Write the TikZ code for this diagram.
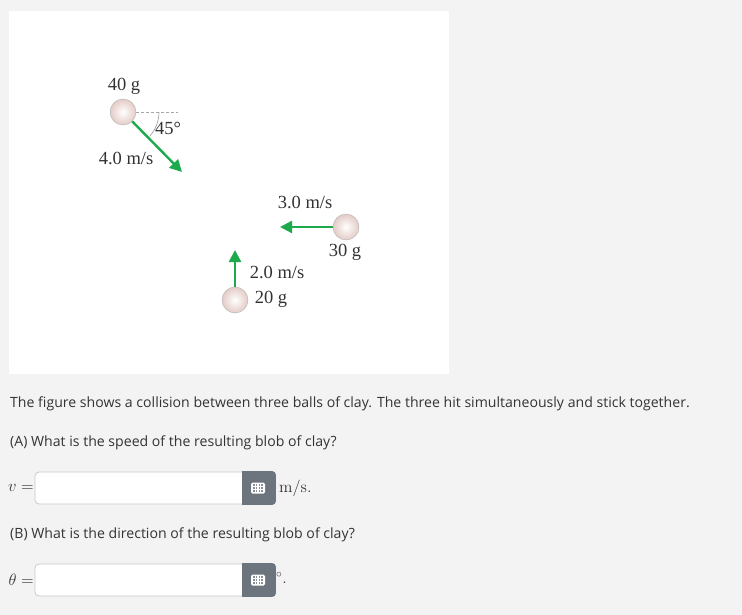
\documentclass[tikz,border=0pt]{standalone}
\usepackage{fix-cm}
\usepackage[no-math]{fontspec}
\setmainfont{Liberation Serif}
\newfontfamily\uifont{Open Sans}
\usetikzlibrary{arrows.meta}

\definecolor{pagebg}{HTML}{F3F3F3}
\definecolor{velgreen}{HTML}{1DAA4C}
\definecolor{claypink}{HTML}{E3CBC6}
\definecolor{inktext}{HTML}{333333}
\definecolor{btngray}{HTML}{6C757D}
\definecolor{boxline}{HTML}{C9C9C9}

\tikzset{
  ball/.style={circle, minimum size=26pt, inner sep=0pt, draw=gray!60,
    shading=radial, inner color=white, outer color=claypink},
  vel/.style={-{Triangle[length=12pt,width=12pt]}, line width=2.4pt, velgreen},
  lbl/.style={text=black!80, font=\fontsize{18.5}{20}\selectfont, inner sep=0pt},
  qtext/.style={anchor=west, text=inktext, inner sep=0pt,
    font=\uifont\fontsize{14.1}{16}\selectfont},
  mathlbl/.style={text=inktext, inner sep=0pt, font=\fontsize{16.5}{18}\selectfont},
}

% answer field with calculator button, top left corner at #1,#2
\newcommand{\ansfield}[2]{
  \draw[boxline, line width=0.8pt, fill=white, rounded corners=4pt]
    (#1,#2) rectangle ++(240,32);
  \begin{scope}
    \clip[rounded corners=4pt] (#1-1,#2-1) rectangle ++(242,34);
    \fill[btngray] (#1+207,#2-1) rectangle ++(34,34);
  \end{scope}
  \fill[white, rounded corners=1.5pt] (#1+216,#2+10.5) rectangle ++(14,11);
  \foreach \i in {0,1,2,3}
    \foreach \j in {0,1,2}
      \fill[btngray!80] (#1+218+\i*2.8,#2+12.3+\j*2.8) rectangle ++(1.6,1.6);
}

\begin{document}
\begin{tikzpicture}[x=1pt,y=-1pt]
  \useasboundingbox (0,0) rectangle (742,615);
  \fill[pagebg] (0,0) rectangle (742,615);
  \fill[white] (9,11) rectangle (449,374);

  % 40 g ball
  \node[ball] (ball40) at (123,112) {};
  \node[lbl] (m40) at (124,86) {40 g};
  \coordinate (dash40) at (178,112);
  \draw[gray!70, line width=0.6pt, dash pattern=on 3pt off 2pt] (ball40.east) -- (dash40);
  \draw[gray!80, line width=0.6pt] (ball40.center) ++(36,0) arc[start angle=0, end angle=42, radius=36];
  \node[lbl] (ang40) at (168,128) {45°};
  \coordinate (tip40) at (182,172);
  \draw[vel] (ball40) -- (tip40);
  \node[lbl] (v40) at (126,158) {4.0 m/s};

  % 30 g ball
  \node[ball] (ball30) at (346,227) {};
  \coordinate (tip30) at (280,227);
  \draw[vel] (ball30) -- (tip30);
  \node[lbl] (v30) at (305,202) {3.0 m/s};
  \node[lbl] (m30) at (345,252) {30 g};

  % 20 g ball
  \node[ball] (ball20) at (235,300) {};
  \coordinate (tip20) at (235,250);
  \draw[vel] (ball20) -- (tip20);
  \node[lbl] (v20) at (277,272) {2.0 m/s};
  \node[lbl] (m20) at (271,299) {20 g};

  % question text
  \node[qtext] (intro) at (10,404) {The figure shows a collision between three balls of clay. The three hit simultaneously and stick together.};
  \node[qtext] (partA) at (10,443) {(A) What is the speed of the resulting blob of clay?};
  \node[qtext] (partB) at (10,535) {(B) What is the direction of the resulting blob of clay?};

  % answer fields
  \ansfield{35}{472}
  \node[mathlbl, anchor=east] (vsym) at (34,488) {$v =$};
  \node[mathlbl, anchor=west] (vunit) at (279,488) {$\mathrm{m/s.}$};
  \ansfield{35}{564}
  \node[mathlbl, anchor=east] (thsym) at (34,580) {$\theta =$};
  \node[mathlbl, anchor=west] (thunit) at (276,578) {$^\circ.$};
\end{tikzpicture}
\end{document}
